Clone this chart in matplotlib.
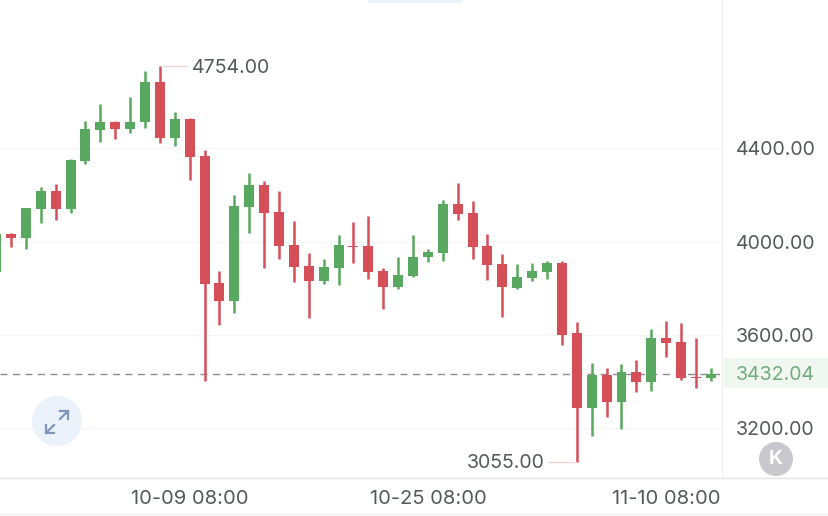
import matplotlib
matplotlib.use('Agg')
import matplotlib.pyplot as plt
from matplotlib.patches import Circle, Rectangle

plt.rcParams['font.family'] = ['Inter', 'DejaVu Sans']

# candle values, first candle is cut by the left edge
opens = [3869, 4033, 4015, 4139, 4216, 4141, 4346, 4480, 4515, 4483, 4512, 4685, 4445, 4526,
         4367, 3823, 3745, 4150, 4243, 4127, 3987, 3895, 3830, 3887, 3982, 3980, 3874, 3804,
         3854, 3933, 3952, 4160, 4121, 3981, 3904, 3801, 3845, 3871, 3909, 3606, 3285, 3427,
         3312, 3439, 3398, 3585, 3569, 3420, 3413]
closes = [4033, 4015, 4143, 4216, 4141, 4349, 4483, 4513, 4483, 4515, 4685, 4445, 4526, 4364,
          3819, 3744, 4153, 4243, 4121, 3982, 3891, 3830, 3890, 3984, 3977, 3871, 3804, 3858,
          3935, 3957, 4160, 4117, 3977, 3899, 3804, 3849, 3875, 3909, 3600, 3285, 3427, 3312,
          3439, 3398, 3585, 3565, 3416, 3414, 3432]
highs = [4033, 4038, 4144, 4236, 4246, 4356, 4516, 4591, 4516, 4620, 4734, 4754, 4556, 4529,
         4393, 3875, 4200, 4293, 4261, 4217, 4090, 3950, 3927, 4030, 4085, 4109, 3887, 3933,
         4027, 3968, 4179, 4253, 4174, 4034, 3947, 3905, 3907, 3918, 3915, 3655, 3480, 3456,
         3473, 3492, 3623, 3659, 3649, 3587, 3456]
lows = [3869, 3975, 3967, 4081, 4093, 4121, 4332, 4426, 4439, 4468, 4489, 4423, 4410, 4264,
        3400, 3642, 3695, 4036, 3887, 3924, 3825, 3673, 3818, 3812, 3908, 3839, 3709, 3796,
        3847, 3912, 3915, 4093, 3927, 3836, 3677, 3795, 3831, 3838, 3556, 3055, 3166, 3248,
        3195, 3355, 3360, 3506, 3406, 3373, 3403]
first_index = -1

y_ticks = [3200, 3600, 4000, 4400]
x_tick_pos = [12, 28, 44]
x_tick_labels = ['10-09 08:00', '10-25 08:00', '11-10 08:00']
last_price = 3432.04
max_price = 4754.00
max_index = 10
min_price = 3055.00
min_index = 38

red = '#d54f59'
green = '#58a95f'
text_col = '#55585c'
font_size = 14.1

fig = plt.figure(figsize=(8.29, 5.16), dpi=100)
ax = fig.add_axes([0, 38 / 516, 722 / 829, 478 / 516])
ax.set_xlim(-0.74, 47.75)
ax.set_ylim(2985, 5037)

# grid and last price line
for t in y_ticks:
    ax.axhline(t, color='#f5f5f5', lw=1, zorder=1)
ax.axhline(last_price, color='#8d8d8d', lw=1, dashes=(5, 4), zorder=1)

# candles
for k in range(len(opens)):
    x = first_index + k
    col = green if closes[k] >= opens[k] else red
    ax.vlines(x, lows[k], highs[k], color=col, lw=1.8, zorder=2)
    bottom = min(opens[k], closes[k])
    ax.bar(x, abs(closes[k] - opens[k]), bottom=bottom, width=0.67, color=col, zorder=3)

# high / low markers
ax.plot([max_index + 0.2, max_index + 1.85], [max_price, max_price], color='#f0d5d7', lw=1, zorder=1)
ax.annotate('%.2f' % max_price, (max_index + 1.85, max_price), xytext=(3, -1.5),
            textcoords='offset points', va='center', ha='left', fontsize=font_size, color=text_col)
ax.plot([min_index - 1.85, min_index - 0.2], [min_price, min_price], color='#f0d5d7', lw=1, zorder=1)
ax.annotate('%.2f' % min_price, (min_index - 1.85, min_price), xytext=(-3, -1),
            textcoords='offset points', va='center', ha='right', fontsize=font_size, color=text_col)

# axes
ax.yaxis.tick_right()
ax.set_yticks(y_ticks)
ax.set_yticklabels(['%.2f' % t for t in y_ticks])
ax.set_xticks(x_tick_pos)
ax.set_xticklabels(x_tick_labels)
ax.tick_params(axis='y', length=0, pad=10, labelsize=font_size, labelcolor=text_col)
ax.tick_params(axis='x', length=0, pad=9, labelsize=14.5, labelcolor=text_col)
for lab in ax.get_yticklabels():
    lab.set_verticalalignment('center_baseline')
for s in ['top', 'left', 'bottom']:
    ax.spines[s].set_visible(False)
ax.spines['right'].set_color('#f0f0f0')

# app chrome drawn in pixel coords
ov = fig.add_axes([0, 0, 1, 1], zorder=5)
ov.set_xlim(0, 829)
ov.set_ylim(516, 0)
ov.axis('off')
ov.plot([0, 829], [478, 478], color='#e4e4e4', lw=1)
ov.add_patch(Rectangle((0, 513), 829, 3, color='#f6f6f6', lw=0))
ov.add_patch(Rectangle((368, 0), 94, 3, color='#e8f3fa', lw=0))

# last price box
ov.add_patch(Rectangle((724, 358), 105, 30, color='#f0f7f1', lw=0))
ov.text(736, 375.5, '%.2f' % last_price, va='center', ha='left', fontsize=font_size, color='#72ad7c')

# expand button
ov.add_patch(Circle((57, 421), 25, color='#ecf2f9', lw=0))
arrow_col = '#7d96ba'
ov.plot([60, 68, 68], [411, 411, 419], color=arrow_col, lw=1.6)
ov.plot([68, 60], [411, 419], color=arrow_col, lw=1.6)
ov.plot([46, 46, 54], [425, 433, 433], color=arrow_col, lw=1.6)
ov.plot([46, 54], [433, 425], color=arrow_col, lw=1.6)

# K button
ov.add_patch(Circle((776, 459), 17, color='#c9c9cd', lw=0))
ov.text(776, 459, 'K', va='center', ha='center', fontsize=14, fontweight='bold', color='white')

fig.savefig('out.png', dpi=100)
